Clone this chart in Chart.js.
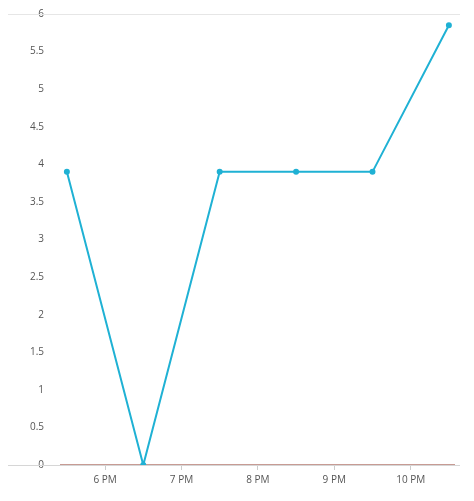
<!DOCTYPE html>
<html><head><meta charset="utf-8">
<script src="https://cdn.jsdelivr.net/npm/chart.js@4"></script>
<style>body{margin:0;background:#fff}#w{width:474px;height:501px}</style></head>
<body><div id="w"><canvas id="c"></canvas></div>
<script>
const hours = [17.5, 18.5, 19.5, 20.5, 21.5, 22.5];
const values = [3.9, 0, 3.9, 3.9, 3.9, 5.85];
const baselineHours = [17.41, 22.58];
const baseline = [0, 0];
const tickHours = [18, 19, 20, 21, 22];
const tickLabels = ['6 PM', '7 PM', '8 PM', '9 PM', '10 PM'];

const leftLine = {
  id: 'leftLine',
  beforeDatasetsDraw(chart) {
    const {ctx, scales: {y}, chartArea} = chart;
    const y0 = y.getPixelForValue(0), y6 = y.getPixelForValue(6);
    ctx.save();
    ctx.strokeStyle = '#d6d6d6'; ctx.lineWidth = 1;
    ctx.beginPath(); ctx.moveTo(8, y0 + 0.5); ctx.lineTo(chartArea.right + 5, y0 + 0.5); ctx.stroke();
    ctx.strokeStyle = '#e6e6e6';
    ctx.beginPath(); ctx.moveTo(8, y6 + 0.5); ctx.lineTo(chartArea.right + 5, y6 + 0.5); ctx.stroke();
    ctx.restore();
  }
};

new Chart(document.getElementById('c'), {
  type: 'line',
  data: {
    datasets: [
      { data: baselineHours.map((h, i) => ({x: h, y: baseline[i]})), borderColor: '#b57a70', borderWidth: 1.5, pointRadius: 0, order: 2 },
      { data: hours.map((h, i) => ({x: h, y: values[i]})), borderColor: '#1fb1d4', backgroundColor: '#1fb1d4', borderWidth: 2, pointRadius: 2, pointHoverRadius: 2, tension: 0, order: 1 }
    ]
  },
  plugins: [leftLine],
  options: {
    responsive: true, maintainAspectRatio: false, animation: false,
    layout: { padding: { left: 0, right: 19, top: 11, bottom: 0 } },
    plugins: { legend: { display: false }, tooltip: { enabled: false } },
    scales: {
      x: {
        type: 'linear', min: 17.41, max: 22.58,
        afterBuildTicks: s => { s.ticks = tickHours.map(v => ({value: v})); },
        ticks: { callback: v => tickLabels[tickHours.indexOf(v)], color: '#555', font: { family: 'Open Sans', size: 10 }, padding: 4, maxRotation: 0 },
        grid: { display: true, drawOnChartArea: false, drawTicks: true, tickLength: 5, color: '#ccc' },
        border: { display: false },
        afterFit: s => { s.height = 36; }
      },
      y: {
        min: 0, max: 6,
        ticks: { stepSize: 0.5, callback: v => String(v), color: '#555', font: { family: 'Open Sans', size: 10 }, padding: 8 },
        grid: { display: false },
        border: { display: false },
        afterFit: s => { s.width = 60; }
      }
    }
  }
});
</script></body></html>
